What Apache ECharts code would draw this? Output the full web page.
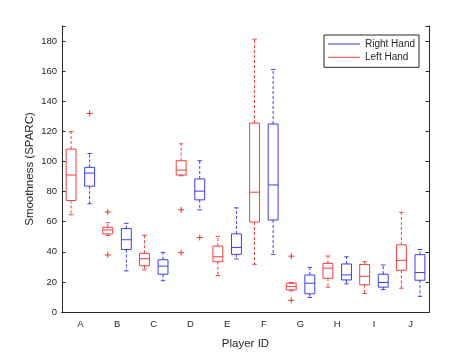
<!DOCTYPE html>
<html><head><meta charset="utf-8">
<script src="https://cdn.jsdelivr.net/npm/echarts@6/dist/echarts.min.js"></script>
<style>html,body{margin:0;padding:0;background:#fff}#c{width:474px;height:355px}</style>
</head><body><div id="c"></div>
<script>
const categories = ['A','B','C','D','E','F','G','H','I','J'];
const yTicks = [0,20,40,60,80,100,120,140,160,180];

// Left hand (red)
const leftLow    = [64.6, 50.8, 28.0, 90.5, 24.2, 31.7, 14.0, 16.5, 12.3, 15.8];
const leftQ1     = [74.1, 51.9, 30.7, 91.0, 33.4, 59.8, 14.7, 22.4, 18.1, 27.7];
const leftMedian = [91.0, 54.5, 35.4, 94.3, 36.7, 79.6, 17.0, 29.1, 23.7, 34.3];
const leftQ3     = [108.2, 56.3, 39.0, 100.5, 43.8, 125.5, 19.1, 32.3, 31.6, 44.6];
const leftHigh   = [119.8, 59.3, 51.0, 111.7, 50.3, 181.2, 19.6, 37.2, 33.4, 66.2];
const leftOutliers = [[1, 66.4], [1, 37.9], [3, 67.9], [3, 39.4], [6, 37.1], [6, 7.7]];

// Right hand (blue)
const rightLow    = [71.9, 27.3, 20.8, 67.9, 35.2, 38.3, 9.7, 18.7, 14.9, 10.4];
const rightQ1     = [83.6, 41.5, 25.1, 74.5, 38.3, 61.1, 12.1, 21.3, 16.5, 21.1];
const rightMedian = [92.3, 48.0, 30.5, 80.3, 42.9, 84.4, 19.1, 24.6, 19.6, 26.2];
const rightQ3     = [96.1, 55.4, 34.7, 88.4, 51.9, 124.9, 24.6, 31.9, 25.1, 38.1];
const rightHigh   = [105.3, 58.9, 39.6, 100.5, 69.2, 161.1, 29.7, 36.7, 31.2, 41.5];
const rightOutliers = [[0, 131.9], [3, 49.5]];

const BLUE = '#3c3cf5', RED = '#f53c3c', OUT = '#f03030', AXIS = '#262626';

function buildBoxData(lo, q1, md, q3, hi) {
  return categories.map((c, i) => [i, lo[i], q1[i], md[i], q3[i], hi[i]]);
}

function boxRender(offset, color) {
  return function (params, api) {
    const idx = api.value(0);
    const band = api.size([1, 0])[0];
    const cx = api.coord([idx, 0])[0] + offset * band;
    const hw = band * 0.135;
    const cw = band * 0.06;
    const y = k => api.coord([idx, api.value(k)])[1];
    const yLo = y(1), yQ1 = y(2), yMed = y(3), yQ3 = y(4), yHi = y(5);
    const solid = { stroke: color, lineWidth: 1, fill: null };
    const dashed = { stroke: color, lineWidth: 1, lineDash: [3, 2], fill: null };
    return {
      type: 'group',
      children: [
        { type: 'line', shape: { x1: cx, y1: yQ3, x2: cx, y2: yHi }, style: dashed },
        { type: 'line', shape: { x1: cx, y1: yQ1, x2: cx, y2: yLo }, style: dashed },
        { type: 'line', shape: { x1: cx - cw, y1: yHi, x2: cx + cw, y2: yHi }, style: solid },
        { type: 'line', shape: { x1: cx - cw, y1: yLo, x2: cx + cw, y2: yLo }, style: solid },
        { type: 'rect', shape: { x: cx - hw, y: yQ3, width: 2 * hw, height: yQ1 - yQ3 }, style: solid },
        { type: 'line', shape: { x1: cx - hw, y1: yMed, x2: cx + hw, y2: yMed }, style: solid }
      ]
    };
  };
}

function outlierRender(offset) {
  return function (params, api) {
    const idx = api.value(0);
    const band = api.size([1, 0])[0];
    const p = api.coord([idx, api.value(1)]);
    const cx = p[0] + offset * band, cy = p[1];
    const s = 3;
    const st = { stroke: OUT, lineWidth: 1 };
    return {
      type: 'group',
      children: [
        { type: 'line', shape: { x1: cx - s, y1: cy, x2: cx + s, y2: cy }, style: st },
        { type: 'line', shape: { x1: cx, y1: cy - s, x2: cx, y2: cy + s }, style: st }
      ]
    };
  };
}

const chart = echarts.init(document.getElementById('c'), null, { renderer: 'canvas' });
const font = 'Arial, "Liberation Sans", Helvetica, sans-serif';

chart.setOption({
  animation: false,
  backgroundColor: '#fff',
  textStyle: { fontFamily: font },
  grid: { left: 62, right: 45, top: 26, bottom: 41, containLabel: false },
  legend: {
    data: ['Right Hand', 'Left Hand'],
    orient: 'vertical',
    left: 324, top: 35,
    icon: 'rect', itemWidth: 32, itemHeight: 1,
    itemGap: 1.3,
    padding: [3, 4, 4, 4],
    borderColor: AXIS, borderWidth: 1,
    backgroundColor: '#fff',
    textStyle: { fontSize: 10, color: AXIS, fontFamily: font, lineHeight: 12 },
    selectedMode: false
  },
  xAxis: [{
    type: 'category', data: categories, position: 'bottom',
    boundaryGap: true,
    name: 'Player ID', nameLocation: 'middle', nameGap: 26, nameMoveOverlap: false,
    nameTextStyle: { fontSize: 11.5, color: AXIS, fontFamily: font },
    axisLine: { lineStyle: { color: AXIS, width: 1 } },
    axisTick: { inside: true, alignWithLabel: true, length: 3.5, lineStyle: { color: AXIS } },
    axisLabel: { color: AXIS, fontSize: 9.5, margin: 7, fontFamily: font },
    splitLine: { show: false }
  }, {
    type: 'category', data: categories, position: 'top',
    boundaryGap: true,
    axisLine: { lineStyle: { color: AXIS, width: 1 } },
    axisTick: { inside: true, alignWithLabel: true, length: 3.5, lineStyle: { color: AXIS } },
    axisLabel: { show: false },
    splitLine: { show: false }
  }],
  yAxis: [{
    type: 'value', min: 0, max: 190, interval: 20, position: 'left',
    name: 'Smoothness (SPARC)', nameLocation: 'middle', nameGap: 26, nameMoveOverlap: false,
    nameTextStyle: { fontSize: 11.5, color: AXIS, fontFamily: font },
    axisLine: { show: true, lineStyle: { color: AXIS, width: 1 } },
    axisTick: { show: true, inside: true, length: 3.5, lineStyle: { color: AXIS } },
    axisLabel: { color: AXIS, fontSize: 9.5, margin: 5, fontFamily: font,
      formatter: v => (yTicks.indexOf(v) >= 0 ? String(v) : '') },
    splitLine: { show: false }
  }, {
    type: 'value', min: 0, max: 190, interval: 20, position: 'right',
    axisLine: { show: true, lineStyle: { color: AXIS, width: 1 } },
    axisTick: { show: true, inside: true, length: 3.5, lineStyle: { color: AXIS } },
    axisLabel: { show: false },
    splitLine: { show: false }
  }],
  series: [{
    name: 'Right Hand', type: 'custom',
    xAxisIndex: 0, yAxisIndex: 0,
    itemStyle: { color: BLUE },
    encode: { x: 0, y: [1, 2, 3, 4, 5] },
    renderItem: boxRender(0.253, BLUE),
    data: buildBoxData(rightLow, rightQ1, rightMedian, rightQ3, rightHigh)
  }, {
    name: 'Left Hand', type: 'custom',
    xAxisIndex: 0, yAxisIndex: 0,
    itemStyle: { color: RED },
    encode: { x: 0, y: [1, 2, 3, 4, 5] },
    renderItem: boxRender(-0.253, RED),
    data: buildBoxData(leftLow, leftQ1, leftMedian, leftQ3, leftHigh)
  }, {
    name: 'Right Outliers', type: 'custom',
    xAxisIndex: 0, yAxisIndex: 0,
    encode: { x: 0, y: 1 },
    renderItem: outlierRender(0.253),
    data: rightOutliers
  }, {
    name: 'Left Outliers', type: 'custom',
    xAxisIndex: 0, yAxisIndex: 0,
    encode: { x: 0, y: 1 },
    renderItem: outlierRender(-0.253),
    data: leftOutliers
  }]
});
</script>
</body></html>
